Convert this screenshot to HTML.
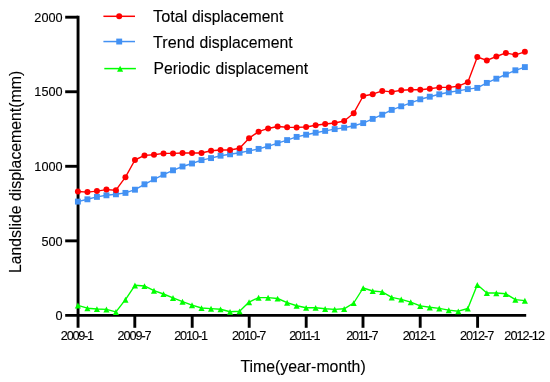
<!DOCTYPE html>
<html><head><meta charset="utf-8"><title>Landslide displacement</title>
<style>
html,body{margin:0;padding:0;background:#fff;}
svg{display:block;}
text{font-family:"Liberation Sans",Arial,sans-serif;fill:#000;stroke:#000;stroke-width:0.12px;}
</style></head><body>
<svg width="550" height="382" viewBox="0 0 550 382">
<rect width="550" height="382" fill="#fff"/>
<g stroke="#000" stroke-width="2.9" fill="none">
<line x1="78.05" y1="15.75" x2="78.05" y2="327.8"/>
<line x1="65.2" y1="315.4" x2="526.2" y2="315.4"/>
<line x1="65.2" y1="17.2" x2="78.05" y2="17.2"/>
<line x1="65.2" y1="91.75" x2="78.05" y2="91.75"/>
<line x1="65.2" y1="166.3" x2="78.05" y2="166.3"/>
<line x1="65.2" y1="240.85" x2="78.05" y2="240.85"/>
<line x1="134.80" y1="315.4" x2="134.80" y2="327.8"/>
<line x1="192.20" y1="315.4" x2="192.20" y2="327.8"/>
<line x1="249.20" y1="315.4" x2="249.20" y2="327.8"/>
<line x1="306.20" y1="315.4" x2="306.20" y2="327.8"/>
<line x1="363.00" y1="315.4" x2="363.00" y2="327.8"/>
<line x1="420.20" y1="315.4" x2="420.20" y2="327.8"/>
<line x1="477.60" y1="315.4" x2="477.60" y2="327.8"/>
</g>
<polyline points="77.90,305.40 87.41,308.20 96.92,309.00 106.43,309.40 115.94,311.90 125.45,299.60 134.96,285.30 144.47,285.95 153.98,290.65 163.49,294.00 173.00,297.90 182.51,301.60 192.02,305.10 201.53,308.00 211.04,308.60 220.55,309.20 230.06,311.75 239.57,311.20 249.08,302.10 258.59,297.60 268.10,297.60 277.61,298.50 287.12,302.60 296.63,305.75 306.14,307.75 315.65,307.75 325.16,308.80 334.67,309.40 344.18,308.80 353.69,303.00 363.20,288.00 372.71,291.00 382.22,291.90 391.73,297.40 401.24,299.40 410.75,302.15 420.26,305.85 429.77,307.30 439.28,308.40 448.79,310.15 458.30,311.20 467.81,308.50 477.32,284.80 486.83,292.95 496.34,293.05 505.85,293.80 515.36,299.60 524.87,300.60" fill="none" stroke="#00ff00" stroke-width="1.4" stroke-linejoin="round"/>
<polygon points="77.90,302.60 80.95,308.50 74.85,308.50" fill="#00ff00"/><polygon points="87.41,305.40 90.46,311.30 84.36,311.30" fill="#00ff00"/><polygon points="96.92,306.20 99.97,312.10 93.87,312.10" fill="#00ff00"/><polygon points="106.43,306.60 109.48,312.50 103.38,312.50" fill="#00ff00"/><polygon points="115.94,309.10 118.99,315.00 112.89,315.00" fill="#00ff00"/><polygon points="125.45,296.80 128.50,302.70 122.40,302.70" fill="#00ff00"/><polygon points="134.96,282.50 138.01,288.40 131.91,288.40" fill="#00ff00"/><polygon points="144.47,283.15 147.52,289.05 141.42,289.05" fill="#00ff00"/><polygon points="153.98,287.85 157.03,293.75 150.93,293.75" fill="#00ff00"/><polygon points="163.49,291.20 166.54,297.10 160.44,297.10" fill="#00ff00"/><polygon points="173.00,295.10 176.05,301.00 169.95,301.00" fill="#00ff00"/><polygon points="182.51,298.80 185.56,304.70 179.46,304.70" fill="#00ff00"/><polygon points="192.02,302.30 195.07,308.20 188.97,308.20" fill="#00ff00"/><polygon points="201.53,305.20 204.58,311.10 198.48,311.10" fill="#00ff00"/><polygon points="211.04,305.80 214.09,311.70 207.99,311.70" fill="#00ff00"/><polygon points="220.55,306.40 223.60,312.30 217.50,312.30" fill="#00ff00"/><polygon points="230.06,308.95 233.11,314.85 227.01,314.85" fill="#00ff00"/><polygon points="239.57,308.40 242.62,314.30 236.52,314.30" fill="#00ff00"/><polygon points="249.08,299.30 252.13,305.20 246.03,305.20" fill="#00ff00"/><polygon points="258.59,294.80 261.64,300.70 255.54,300.70" fill="#00ff00"/><polygon points="268.10,294.80 271.15,300.70 265.05,300.70" fill="#00ff00"/><polygon points="277.61,295.70 280.66,301.60 274.56,301.60" fill="#00ff00"/><polygon points="287.12,299.80 290.17,305.70 284.07,305.70" fill="#00ff00"/><polygon points="296.63,302.95 299.68,308.85 293.58,308.85" fill="#00ff00"/><polygon points="306.14,304.95 309.19,310.85 303.09,310.85" fill="#00ff00"/><polygon points="315.65,304.95 318.70,310.85 312.60,310.85" fill="#00ff00"/><polygon points="325.16,306.00 328.21,311.90 322.11,311.90" fill="#00ff00"/><polygon points="334.67,306.60 337.72,312.50 331.62,312.50" fill="#00ff00"/><polygon points="344.18,306.00 347.23,311.90 341.13,311.90" fill="#00ff00"/><polygon points="353.69,300.20 356.74,306.10 350.64,306.10" fill="#00ff00"/><polygon points="363.20,285.20 366.25,291.10 360.15,291.10" fill="#00ff00"/><polygon points="372.71,288.20 375.76,294.10 369.66,294.10" fill="#00ff00"/><polygon points="382.22,289.10 385.27,295.00 379.17,295.00" fill="#00ff00"/><polygon points="391.73,294.60 394.78,300.50 388.68,300.50" fill="#00ff00"/><polygon points="401.24,296.60 404.29,302.50 398.19,302.50" fill="#00ff00"/><polygon points="410.75,299.35 413.80,305.25 407.70,305.25" fill="#00ff00"/><polygon points="420.26,303.05 423.31,308.95 417.21,308.95" fill="#00ff00"/><polygon points="429.77,304.50 432.82,310.40 426.72,310.40" fill="#00ff00"/><polygon points="439.28,305.60 442.33,311.50 436.23,311.50" fill="#00ff00"/><polygon points="448.79,307.35 451.84,313.25 445.74,313.25" fill="#00ff00"/><polygon points="458.30,308.40 461.35,314.30 455.25,314.30" fill="#00ff00"/><polygon points="467.81,305.70 470.86,311.60 464.76,311.60" fill="#00ff00"/><polygon points="477.32,282.00 480.37,287.90 474.27,287.90" fill="#00ff00"/><polygon points="486.83,290.15 489.88,296.05 483.78,296.05" fill="#00ff00"/><polygon points="496.34,290.25 499.39,296.15 493.29,296.15" fill="#00ff00"/><polygon points="505.85,291.00 508.90,296.90 502.80,296.90" fill="#00ff00"/><polygon points="515.36,296.80 518.41,302.70 512.31,302.70" fill="#00ff00"/><polygon points="524.87,297.80 527.92,303.70 521.82,303.70" fill="#00ff00"/>
<polyline points="77.90,201.60 87.41,199.30 96.92,196.90 106.43,195.30 115.94,194.30 125.45,192.90 134.96,189.70 144.47,184.30 153.98,179.30 163.49,174.70 173.00,170.30 182.51,166.50 192.02,163.50 201.53,160.10 211.04,158.10 220.55,155.70 230.06,154.30 239.57,152.70 249.08,150.90 258.59,148.90 268.10,146.30 277.61,143.20 287.12,140.10 296.63,136.90 306.14,134.70 315.65,132.70 325.16,130.90 334.67,129.10 344.18,127.70 353.69,125.70 363.20,123.10 372.71,118.90 382.22,114.70 391.73,109.90 401.24,106.30 410.75,102.90 420.26,99.30 429.77,96.70 439.28,94.30 448.79,92.30 458.30,90.90 467.81,89.10 477.32,87.90 486.83,82.90 496.34,78.70 505.85,74.50 515.36,70.30 524.87,67.10" fill="none" stroke="#4391f3" stroke-width="1.4" stroke-linejoin="round"/>
<rect x="74.95" y="198.65" width="5.9" height="5.9" fill="#4391f3"/><rect x="84.46" y="196.35" width="5.9" height="5.9" fill="#4391f3"/><rect x="93.97" y="193.95" width="5.9" height="5.9" fill="#4391f3"/><rect x="103.48" y="192.35" width="5.9" height="5.9" fill="#4391f3"/><rect x="112.99" y="191.35" width="5.9" height="5.9" fill="#4391f3"/><rect x="122.50" y="189.95" width="5.9" height="5.9" fill="#4391f3"/><rect x="132.01" y="186.75" width="5.9" height="5.9" fill="#4391f3"/><rect x="141.52" y="181.35" width="5.9" height="5.9" fill="#4391f3"/><rect x="151.03" y="176.35" width="5.9" height="5.9" fill="#4391f3"/><rect x="160.54" y="171.75" width="5.9" height="5.9" fill="#4391f3"/><rect x="170.05" y="167.35" width="5.9" height="5.9" fill="#4391f3"/><rect x="179.56" y="163.55" width="5.9" height="5.9" fill="#4391f3"/><rect x="189.07" y="160.55" width="5.9" height="5.9" fill="#4391f3"/><rect x="198.58" y="157.15" width="5.9" height="5.9" fill="#4391f3"/><rect x="208.09" y="155.15" width="5.9" height="5.9" fill="#4391f3"/><rect x="217.60" y="152.75" width="5.9" height="5.9" fill="#4391f3"/><rect x="227.11" y="151.35" width="5.9" height="5.9" fill="#4391f3"/><rect x="236.62" y="149.75" width="5.9" height="5.9" fill="#4391f3"/><rect x="246.13" y="147.95" width="5.9" height="5.9" fill="#4391f3"/><rect x="255.64" y="145.95" width="5.9" height="5.9" fill="#4391f3"/><rect x="265.15" y="143.35" width="5.9" height="5.9" fill="#4391f3"/><rect x="274.66" y="140.25" width="5.9" height="5.9" fill="#4391f3"/><rect x="284.17" y="137.15" width="5.9" height="5.9" fill="#4391f3"/><rect x="293.68" y="133.95" width="5.9" height="5.9" fill="#4391f3"/><rect x="303.19" y="131.75" width="5.9" height="5.9" fill="#4391f3"/><rect x="312.70" y="129.75" width="5.9" height="5.9" fill="#4391f3"/><rect x="322.21" y="127.95" width="5.9" height="5.9" fill="#4391f3"/><rect x="331.72" y="126.15" width="5.9" height="5.9" fill="#4391f3"/><rect x="341.23" y="124.75" width="5.9" height="5.9" fill="#4391f3"/><rect x="350.74" y="122.75" width="5.9" height="5.9" fill="#4391f3"/><rect x="360.25" y="120.15" width="5.9" height="5.9" fill="#4391f3"/><rect x="369.76" y="115.95" width="5.9" height="5.9" fill="#4391f3"/><rect x="379.27" y="111.75" width="5.9" height="5.9" fill="#4391f3"/><rect x="388.78" y="106.95" width="5.9" height="5.9" fill="#4391f3"/><rect x="398.29" y="103.35" width="5.9" height="5.9" fill="#4391f3"/><rect x="407.80" y="99.95" width="5.9" height="5.9" fill="#4391f3"/><rect x="417.31" y="96.35" width="5.9" height="5.9" fill="#4391f3"/><rect x="426.82" y="93.75" width="5.9" height="5.9" fill="#4391f3"/><rect x="436.33" y="91.35" width="5.9" height="5.9" fill="#4391f3"/><rect x="445.84" y="89.35" width="5.9" height="5.9" fill="#4391f3"/><rect x="455.35" y="87.95" width="5.9" height="5.9" fill="#4391f3"/><rect x="464.86" y="86.15" width="5.9" height="5.9" fill="#4391f3"/><rect x="474.37" y="84.95" width="5.9" height="5.9" fill="#4391f3"/><rect x="483.88" y="79.95" width="5.9" height="5.9" fill="#4391f3"/><rect x="493.39" y="75.75" width="5.9" height="5.9" fill="#4391f3"/><rect x="502.90" y="71.55" width="5.9" height="5.9" fill="#4391f3"/><rect x="512.41" y="67.35" width="5.9" height="5.9" fill="#4391f3"/><rect x="521.92" y="64.15" width="5.9" height="5.9" fill="#4391f3"/>
<polyline points="77.90,191.50 87.41,192.10 96.92,191.10 106.43,189.60 115.94,190.20 125.45,177.20 134.96,160.00 144.47,155.40 153.98,154.80 163.49,153.40 173.00,153.40 182.51,153.00 192.02,153.00 201.53,153.00 211.04,150.75 220.55,149.95 230.06,149.95 239.57,148.20 249.08,138.20 258.59,131.65 268.10,128.45 277.61,126.55 287.12,127.20 296.63,127.40 306.14,127.00 315.65,125.20 325.16,124.00 334.67,123.00 344.18,121.00 353.69,113.20 363.20,96.00 372.71,94.20 382.22,90.90 391.73,91.90 401.24,90.20 410.75,89.70 420.26,89.70 429.77,88.70 439.28,87.40 448.79,87.40 458.30,86.20 467.81,82.20 477.32,57.00 486.83,60.40 496.34,56.50 505.85,52.90 515.36,54.85 524.87,51.85" fill="none" stroke="#ff0000" stroke-width="1.4" stroke-linejoin="round"/>
<circle cx="77.90" cy="191.50" r="3.0" fill="#ff0000"/><circle cx="87.41" cy="192.10" r="3.0" fill="#ff0000"/><circle cx="96.92" cy="191.10" r="3.0" fill="#ff0000"/><circle cx="106.43" cy="189.60" r="3.0" fill="#ff0000"/><circle cx="115.94" cy="190.20" r="3.0" fill="#ff0000"/><circle cx="125.45" cy="177.20" r="3.0" fill="#ff0000"/><circle cx="134.96" cy="160.00" r="3.0" fill="#ff0000"/><circle cx="144.47" cy="155.40" r="3.0" fill="#ff0000"/><circle cx="153.98" cy="154.80" r="3.0" fill="#ff0000"/><circle cx="163.49" cy="153.40" r="3.0" fill="#ff0000"/><circle cx="173.00" cy="153.40" r="3.0" fill="#ff0000"/><circle cx="182.51" cy="153.00" r="3.0" fill="#ff0000"/><circle cx="192.02" cy="153.00" r="3.0" fill="#ff0000"/><circle cx="201.53" cy="153.00" r="3.0" fill="#ff0000"/><circle cx="211.04" cy="150.75" r="3.0" fill="#ff0000"/><circle cx="220.55" cy="149.95" r="3.0" fill="#ff0000"/><circle cx="230.06" cy="149.95" r="3.0" fill="#ff0000"/><circle cx="239.57" cy="148.20" r="3.0" fill="#ff0000"/><circle cx="249.08" cy="138.20" r="3.0" fill="#ff0000"/><circle cx="258.59" cy="131.65" r="3.0" fill="#ff0000"/><circle cx="268.10" cy="128.45" r="3.0" fill="#ff0000"/><circle cx="277.61" cy="126.55" r="3.0" fill="#ff0000"/><circle cx="287.12" cy="127.20" r="3.0" fill="#ff0000"/><circle cx="296.63" cy="127.40" r="3.0" fill="#ff0000"/><circle cx="306.14" cy="127.00" r="3.0" fill="#ff0000"/><circle cx="315.65" cy="125.20" r="3.0" fill="#ff0000"/><circle cx="325.16" cy="124.00" r="3.0" fill="#ff0000"/><circle cx="334.67" cy="123.00" r="3.0" fill="#ff0000"/><circle cx="344.18" cy="121.00" r="3.0" fill="#ff0000"/><circle cx="353.69" cy="113.20" r="3.0" fill="#ff0000"/><circle cx="363.20" cy="96.00" r="3.0" fill="#ff0000"/><circle cx="372.71" cy="94.20" r="3.0" fill="#ff0000"/><circle cx="382.22" cy="90.90" r="3.0" fill="#ff0000"/><circle cx="391.73" cy="91.90" r="3.0" fill="#ff0000"/><circle cx="401.24" cy="90.20" r="3.0" fill="#ff0000"/><circle cx="410.75" cy="89.70" r="3.0" fill="#ff0000"/><circle cx="420.26" cy="89.70" r="3.0" fill="#ff0000"/><circle cx="429.77" cy="88.70" r="3.0" fill="#ff0000"/><circle cx="439.28" cy="87.40" r="3.0" fill="#ff0000"/><circle cx="448.79" cy="87.40" r="3.0" fill="#ff0000"/><circle cx="458.30" cy="86.20" r="3.0" fill="#ff0000"/><circle cx="467.81" cy="82.20" r="3.0" fill="#ff0000"/><circle cx="477.32" cy="57.00" r="3.0" fill="#ff0000"/><circle cx="486.83" cy="60.40" r="3.0" fill="#ff0000"/><circle cx="496.34" cy="56.50" r="3.0" fill="#ff0000"/><circle cx="505.85" cy="52.90" r="3.0" fill="#ff0000"/><circle cx="515.36" cy="54.85" r="3.0" fill="#ff0000"/><circle cx="524.87" cy="51.85" r="3.0" fill="#ff0000"/>
<text x="62.6" y="21.90" font-size="12.7" text-anchor="end">2000</text>
<text x="62.6" y="96.45" font-size="12.7" text-anchor="end">1500</text>
<text x="62.6" y="171.00" font-size="12.7" text-anchor="end">1000</text>
<text x="62.6" y="245.55" font-size="12.7" text-anchor="end">500</text>
<text x="62.6" y="320.10" font-size="12.7" text-anchor="end">0</text>
<text x="60.86" y="340.3" font-size="12.7" letter-spacing="-1.277">2009-1</text>
<text x="117.46" y="340.3" font-size="12.7" letter-spacing="-1.073">2009-7</text>
<text x="174.16" y="340.3" font-size="12.7" letter-spacing="-1.117">2010-1</text>
<text x="231.96" y="340.3" font-size="12.7" letter-spacing="-1.013">2010-7</text>
<text x="289.16" y="340.3" font-size="12.7" letter-spacing="-1.417">2011-1</text>
<text x="346.36" y="340.3" font-size="12.7" letter-spacing="-1.293">2011-7</text>
<text x="402.66" y="340.3" font-size="12.7" letter-spacing="-1.197">2012-1</text>
<text x="459.96" y="340.3" font-size="12.7" letter-spacing="-1.053">2012-7</text>
<text x="504.36" y="340.3" font-size="12.7" letter-spacing="-0.988">2012-12</text>
<text x="240.45" y="371.6" font-size="16.2" textLength="125.23" lengthAdjust="spacingAndGlyphs">Time(year-month)</text>
<text transform="translate(21.4,273.10) rotate(-90)" font-size="16.2" textLength="202.28" lengthAdjust="spacingAndGlyphs">Landslide displacement(mm)</text>
<line x1="103.4" y1="16.3" x2="135" y2="16.3" stroke="#ff0000" stroke-width="1.5"/><circle cx="119.20" cy="16.30" r="3.0" fill="#ff0000"/>
<text y="22.2" font-size="16.2"><tspan x="153.00" textLength="34.43" lengthAdjust="spacingAndGlyphs">Total</tspan> <tspan x="191.95" textLength="91.36" lengthAdjust="spacingAndGlyphs">displacement</tspan></text>
<line x1="103.4" y1="41.55" x2="135" y2="41.55" stroke="#4391f3" stroke-width="1.5"/><rect x="116.25" y="38.60" width="5.9" height="5.9" fill="#4391f3"/>
<text y="47.5" font-size="16.2"><tspan x="152.99" textLength="41.64" lengthAdjust="spacingAndGlyphs">Trend</tspan> <tspan x="199.54" textLength="93.08" lengthAdjust="spacingAndGlyphs">displacement</tspan></text>
<line x1="104.30000000000001" y1="68.6" x2="135.9" y2="68.6" stroke="#00ff00" stroke-width="1.5"/><polygon points="120.10,65.80 123.15,71.70 117.05,71.70" fill="#00ff00"/>
<text y="74.4" font-size="16.2"><tspan x="153.51" textLength="56.80" lengthAdjust="spacingAndGlyphs">Periodic</tspan> <tspan x="215.54" textLength="92.57" lengthAdjust="spacingAndGlyphs">displacement</tspan></text>
</svg>
</body></html>
